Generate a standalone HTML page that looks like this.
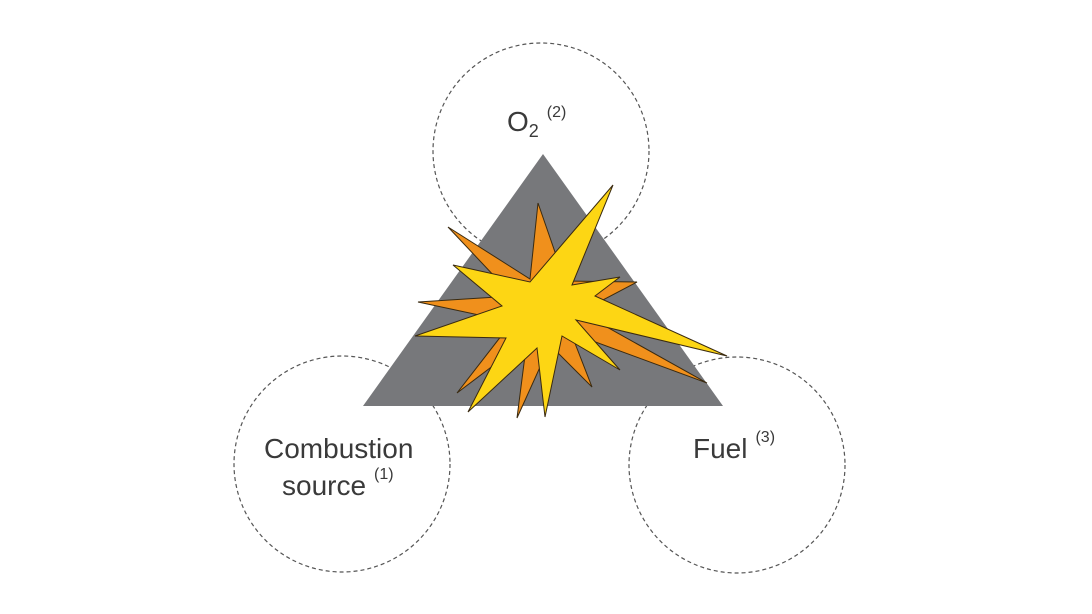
<!DOCTYPE html>
<html><head><meta charset="utf-8"><style>
html,body{margin:0;padding:0;background:#fff;}
svg text{font-family:"Liberation Sans",sans-serif;fill:#3a3a3a;}
</style></head><body>
<svg width="1092" height="609" viewBox="0 0 1092 609" xmlns="http://www.w3.org/2000/svg">
<g fill="none" stroke="#555" stroke-width="1.2" stroke-dasharray="4,3">
<circle cx="541" cy="151" r="108"/>
<circle cx="342" cy="464" r="108"/>
<circle cx="737" cy="465" r="108"/>
</g>
<polygon points="543,154 363,406 723,406" fill="#77787b"/>
<polygon points="418,302 513,296 448,227 530,279 538,203 565,281 637,282 580,312 707,383 571,333 592,387 550,345 517,418 527,340 457,393 512,322" fill="#f0901c" stroke="#3a2a10" stroke-width="1"/>
<polygon points="453,265 530,282 613,185 572,285 620,277 595,296 727,356 576,320 620,370 562,336 545,417 537,348 468,412 506,338 415,336 502,306" fill="#fdd614" stroke="#3a2a10" stroke-width="1"/>
<text x="507" y="131" font-size="28">O<tspan font-size="18" dy="6">2</tspan><tspan font-size="16" dx="8" dy="-20">(2)</tspan></text>
<text x="264" y="458" font-size="28">Combustion</text>
<text x="282" y="495" font-size="28">source<tspan font-size="16" dx="8" dy="-16">(1)</tspan></text>
<text x="693" y="458" font-size="28">Fuel<tspan font-size="16" dx="8" dy="-16">(3)</tspan></text>
</svg>
</body></html>
